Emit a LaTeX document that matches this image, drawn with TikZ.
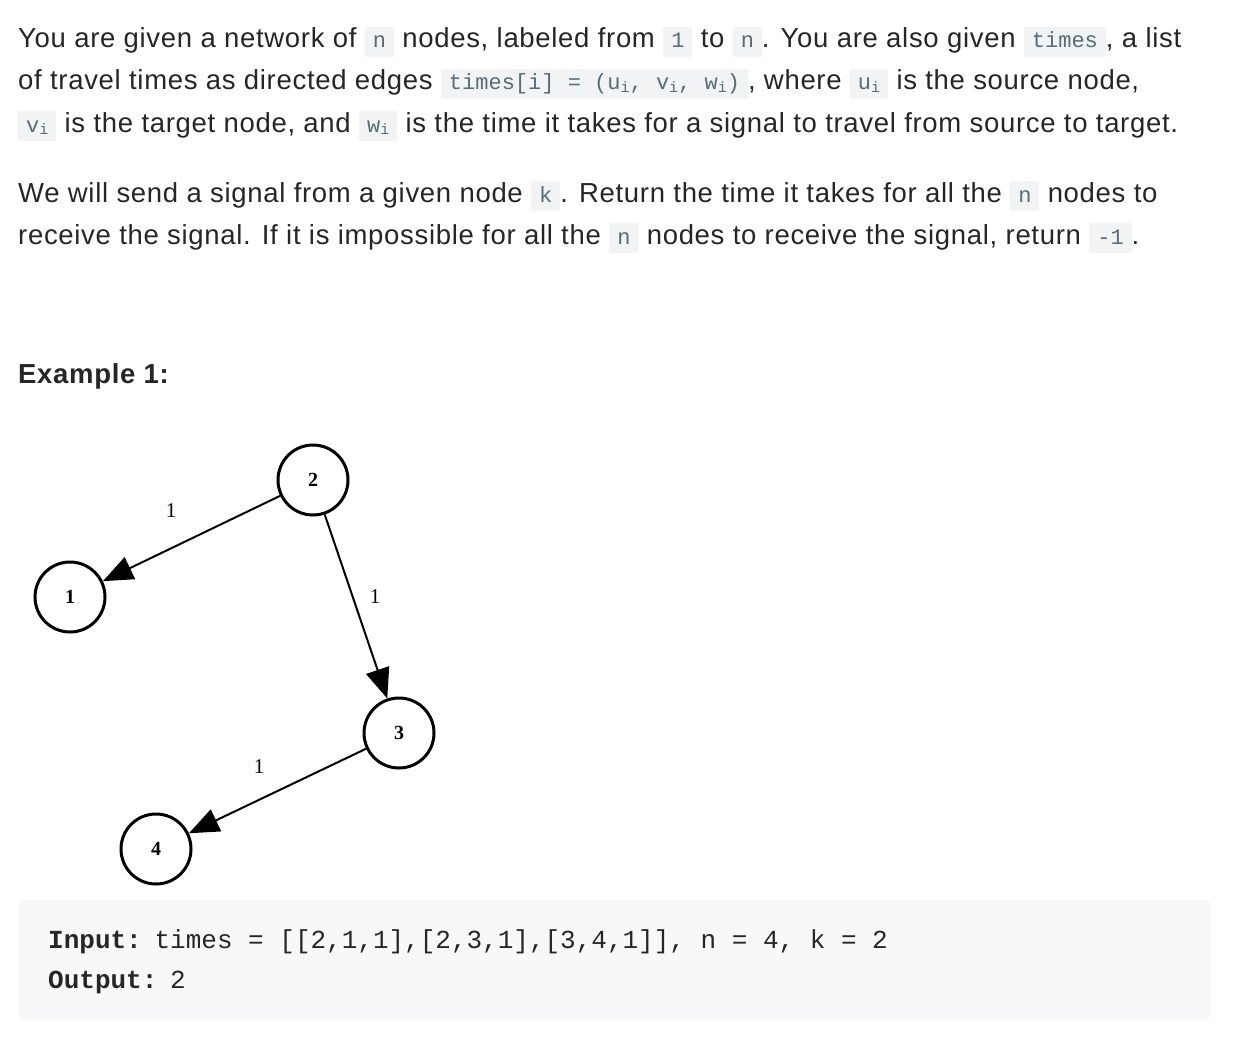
\documentclass[tikz,border=0pt]{standalone}
\usepackage{fontspec}
\setmainfont[LetterSpace=2.5]{Liberation Sans}
\newfontfamily\codefont{Liberation Mono}
\newfontfamily\graphfont{Liberation Serif}
\usetikzlibrary{arrows.meta}
\definecolor{txt}{HTML}{262626}
\definecolor{codebg}{HTML}{F2F3F4}
\definecolor{codetx}{HTML}{546E7A}
\definecolor{blockbg}{HTML}{F7F8FA}
\newcommand{\cd}[1]{{\setlength\fboxsep{3pt}\colorbox{codebg}{\hspace{5pt}\codefont\fontsize{22}{22}\selectfont\color{codetx}\rule[-6pt]{0pt}{24pt}#1\hspace{5pt}}}}
\newcommand{\sbi}{\raisebox{-2pt}{\fontsize{15}{15}\selectfont i}}
\begin{document}
\begin{tikzpicture}[x=1pt,y=-1pt,
  para/.style={anchor=base west,inner sep=0pt,font=\fontsize{27.5}{27.5}\selectfont,text=txt},
  gnode/.style={circle,draw=black,line width=3pt,minimum size=70pt,inner sep=0pt,font=\graphfont\bfseries\fontsize{20}{20}\selectfont},
  elabel/.style={font=\graphfont\fontsize{21}{21}\selectfont,inner sep=0pt},
  edge/.style={line width=2pt,-{Triangle[length=30pt,width=24pt]}}]
\useasboundingbox (0,0) rectangle (1238,1038);
\fill[white] (0,0) rectangle (1238,1038);
\node[para] (l1) at (18,48) {You are given a network of \cd{n} nodes, labeled from \cd{1} to \cd{n}. You are also given \cd{times}, a list};
\node[para] (l2) at (18,90) {of travel times as directed edges \cd{times[i] = (u\sbi, v\sbi, w\sbi)}, where \cd{u\sbi} is the source node,};
\node[para] (l3) at (18,132) {\cd{v\sbi} is the target node, and \cd{w\sbi} is the time it takes for a signal to travel from source to target.};
\node[para] (l4) at (18,202) {We will send a signal from a given node \cd{k}. Return the time it takes for all the \cd{n} nodes to};
\node[para] (l5) at (18,244) {receive the signal. If it is impossible for all the \cd{n} nodes to receive the signal, return \cd{-1}.};
\node[para,font=\bfseries\fontsize{27.5}{27.5}\selectfont] (ex) at (18,383) {Example 1:};
\node[gnode] (n2) at (313,480) {2};
\node[gnode] (n1) at (70,597) {1};
\node[gnode] (n3) at (399,733) {3};
\node[gnode] (n4) at (156,849) {4};
\draw[edge] (n2) -- (n1);
\draw[edge] (n2) -- (n3);
\draw[edge] (n3) -- (n4);
\node[elabel] (e1) at (171,511) {1};
\node[elabel] (e2) at (375,597) {1};
\node[elabel] (e3) at (259,767) {1};
\fill[blockbg,rounded corners=6pt] (18,900) rectangle (1211,1019);
\node[para,font=\codefont\fontsize{26}{26}\selectfont,text=txt] (in) at (48,948) {\textbf{Input:}\hspace{-8pt} times = [[2,1,1],[2,3,1],[3,4,1]], n = 4, k = 2};
\node[para,font=\codefont\fontsize{26}{26}\selectfont,text=txt] (out) at (48,988) {\textbf{Output:}\hspace{-8pt} 2};
\end{tikzpicture}
\end{document}
